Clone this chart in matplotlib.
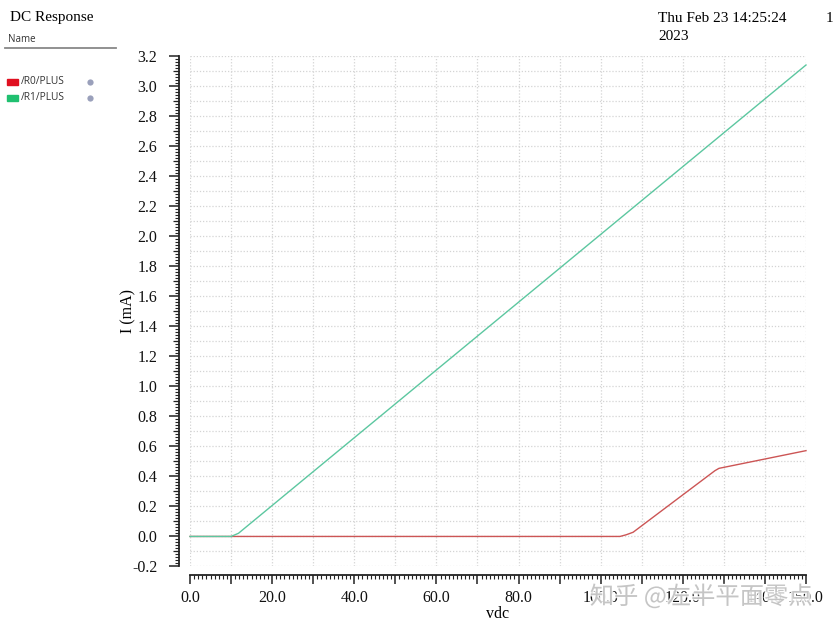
import matplotlib
matplotlib.use("Agg")
import matplotlib.pyplot as plt
import matplotlib.patheffects as pe
from matplotlib.ticker import MultipleLocator, FuncFormatter, FixedLocator
import numpy as np

# ---- data ----
vdc_r1 = [0.0, 10.0, 11.8, 150.0]
i_r1 = [-0.003, -0.003, 0.018, 3.14]

vdc_r0 = [0.0, 104.7, 106.2, 107.9, 127.8, 128.8, 150.0]
i_r0 = [-0.003, -0.003, 0.008, 0.025, 0.435, 0.451, 0.569]

series_names = ["/R0/PLUS", "/R1/PLUS"]
series_colors = ["#cc5555", "#5cc7a0"]
swatch_colors = ["#e01020", "#20c070"]

xticks_labeled = [0, 20, 40, 60, 80, 100, 120, 140, 150]

W, H = 837, 628
fig = plt.figure(figsize=(W / 100, H / 100), dpi=100)
serif = "Liberation Serif"

def px(x0, y0, x1, y1):
    return [x0 / W, 1 - y1 / H, (x1 - x0) / W, (y1 - y0) / H]

pos = px(190, 56, 806, 566)

# medium ticks at odd 0.1 on y (separate, unshared axes underneath)
ax2 = fig.add_axes(pos)
ax2.patch.set_visible(False)
for s in ax2.spines.values():
    s.set_visible(False)
ax2.spines["left"].set_position(("outward", 11 * 0.72))
ax2.set_xticks([])
ax2.set_ylim(-0.2, 3.2)
ax2.set_yticks(list(np.arange(-0.1, 3.2, 0.2)))
ax2.tick_params(axis="y", length=4.5, width=0.9, labelleft=False, color="#222222")

ax = fig.add_axes(pos)
ax.patch.set_visible(False)
ax.set_xlim(0, 150)
ax.set_ylim(-0.2, 3.2)

ax.plot(vdc_r0, i_r0, color=series_colors[0], lw=1.0, clip_on=False, zorder=3)
ax.plot(vdc_r1, i_r1, color=series_colors[1], lw=1.0, clip_on=False, zorder=3)

# grid
for gx in np.arange(0, 151, 10):
    ax.axvline(gx, color="#d4d4d4", lw=0.9, ls=(0, (1, 1.5)), zorder=1)
for gy in np.arange(-0.2, 3.21, 0.1):
    ax.axhline(gy, color="#d4d4d4", lw=0.9, ls=(0, (1, 1.5)), zorder=1)

for s in ["top", "right"]:
    ax.spines[s].set_visible(False)
ax.spines["left"].set_position(("outward", 11 * 0.72))
ax.spines["bottom"].set_position(("outward", 9 * 0.72))
ax.spines["left"].set_color("#222222")
ax.spines["bottom"].set_color("#222222")
ax.spines["left"].set_linewidth(1.3)
ax.spines["bottom"].set_linewidth(1.3)

ax.yaxis.set_major_locator(FixedLocator(list(np.round(np.arange(-0.2, 3.21, 0.2), 1))))
ax.yaxis.set_minor_locator(MultipleLocator(0.02))
ax.yaxis.set_major_formatter(FuncFormatter(lambda v, p: f"{v:.1f}"))
ax.xaxis.set_major_locator(FixedLocator(list(np.arange(0, 151, 10))))
ax.xaxis.set_minor_locator(MultipleLocator(1))
ax.xaxis.set_major_formatter(FuncFormatter(
    lambda v, p: f"{v:.1f}" if int(round(v)) in xticks_labeled else ""))

ax.tick_params(axis="y", which="major", length=7.5, width=1.1, pad=8,
               labelsize=11.5, color="#222222", labelcolor="#111111")
ax.tick_params(axis="y", which="minor", length=2.8, width=0.8, color="#222222")
ax.tick_params(axis="x", which="major", length=6.5, width=1.1, pad=4,
               labelsize=11.5, color="#222222", labelcolor="#111111")
ax.tick_params(axis="x", which="minor", length=2.8, width=0.8, color="#222222")
for lab in ax.get_xticklabels() + ax.get_yticklabels():
    lab.set_fontfamily(serif)

ax.set_ylabel("I (mA)", fontfamily=serif, fontsize=11.5)
ax.yaxis.set_label_coords((136 - 190) / 616, 0.5)
ax.set_xlabel("vdc", fontfamily=serif, fontsize=11.5, labelpad=0)

# header texts
fig.text(10 / W, 1 - 18 / H, "DC Response", fontfamily=serif, fontsize=11,
         va="center", ha="left")
fig.text(658 / W, 1 - 18 / H, "Thu Feb 23 14:25:24", fontfamily=serif,
         fontsize=11, va="center", ha="left")
fig.text(658 / W, 1 - 36 / H, "2023", fontfamily=serif, fontsize=11,
         va="center", ha="left")
fig.text(826 / W, 1 - 18 / H, "1", fontfamily=serif, fontsize=11,
         va="center", ha="left")
fig.text(8 / W, 1 - 40 / H, "Name", fontfamily="Open Sans", fontsize=7,
         va="center", ha="left", color="#333333")
fig.add_artist(plt.Line2D([5 / W, 116 / W], [1 - 48 / H, 1 - 48 / H],
                          color="#888888", lw=1.3))

for i, (nm, c) in enumerate(zip(series_names, swatch_colors)):
    yc = 82 + 16 * i
    fig.add_artist(plt.Rectangle((7 / W, 1 - (yc + 3) / H), 11 / W, 6 / H,
                                 color=c, transform=fig.transFigure))
    fig.text(21 / W, 1 - yc / H, nm, fontfamily="Open Sans", fontsize=7.3,
             va="center", ha="left", color="#333333")
    fig.add_artist(plt.Line2D([90 / W], [1 - yc / H], marker="o", ms=4.5,
                              color="#9aa0bb", mec="none"))

# watermark
fig.text(701 / W, 1 - 597 / H, "知乎 @左半平面零点",
         family=["Noto Sans CJK SC", "DejaVu Sans"], fontsize=17.5,
         color="#bdbdbd", ha="center", va="center", alpha=0.85,
         path_effects=[pe.withStroke(linewidth=2, foreground="white")])

fig.savefig("out.png", dpi=100)
